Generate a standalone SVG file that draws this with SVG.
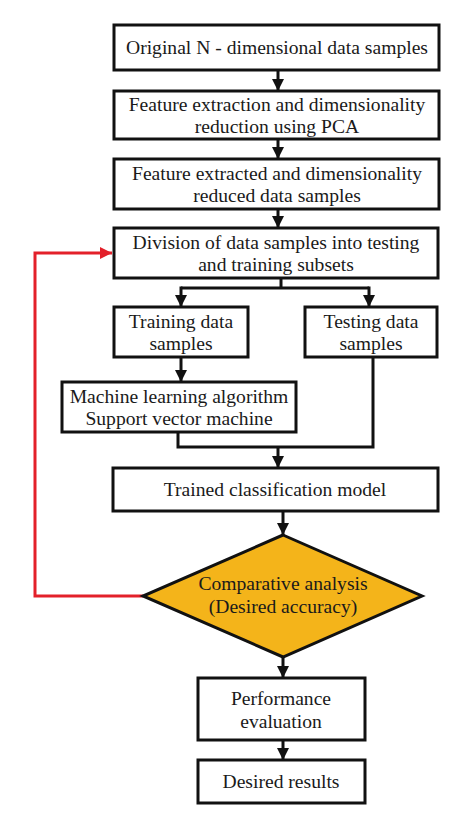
<svg xmlns="http://www.w3.org/2000/svg" width="474" height="816" viewBox="0 0 474 816">
<style>
.box{fill:#fff;stroke:#111;stroke-width:3}
.t{font-size:19.6px;fill:#1a1a1a;text-anchor:middle}
.c{fill:none;stroke:#111;stroke-width:3}
.r{fill:none;stroke:#e3202a;stroke-width:3}
</style>
<defs>
<marker id="ah" viewBox="0 0 10 10" refX="10" refY="5" markerWidth="4" markerHeight="4" markerUnits="strokeWidth" orient="auto"><path d="M0,0 L10,5 L0,10 Z" fill="#111"/></marker>
<marker id="ahr" viewBox="0 0 10 10" refX="10" refY="5" markerWidth="4" markerHeight="4" markerUnits="strokeWidth" orient="auto"><path d="M0,0 L10,5 L0,10 Z" fill="#e3202a"/></marker>
</defs>
<g id="connectors">
<line class="c" x1="278" y1="70" x2="278" y2="91" marker-end="url(#ah)"/>
<line class="c" x1="278" y1="139" x2="278" y2="159" marker-end="url(#ah)"/>
<line class="c" x1="278" y1="209" x2="278" y2="228" marker-end="url(#ah)"/>
<polyline class="c" points="281,278 281,288"/>
<polyline class="c" points="181,288 369,288"/>
<line class="c" x1="181" y1="286.5" x2="181" y2="307" marker-end="url(#ah)"/>
<line class="c" x1="369" y1="286.5" x2="369" y2="307" marker-end="url(#ah)"/>
<line class="c" x1="181" y1="357" x2="181" y2="382" marker-end="url(#ah)"/>
<polyline class="c" points="178,432 178,447 373,447 373,357"/>
<line class="c" x1="278" y1="447" x2="278" y2="468" marker-end="url(#ah)"/>
<line class="c" x1="283" y1="511" x2="283" y2="535" marker-end="url(#ah)"/>
<line class="c" x1="283" y1="657" x2="283" y2="678" marker-end="url(#ah)"/>
<line class="c" x1="283" y1="740" x2="283" y2="760" marker-end="url(#ah)"/>
<polyline class="r" points="143,596 35,596 35,253 112,253" marker-end="url(#ahr)"/>
</g>
<g font-family="Liberation Serif, Times New Roman, serif">
<g id="n1"><rect class="box" x="114" y="25" width="325" height="45"/><text class="t" x="277" y="54">Original N - dimensional data samples</text></g>
<g id="n2"><rect class="box" x="114" y="91" width="325" height="48"/><text class="t" x="277" y="111">Feature extraction and dimensionality</text><text class="t" x="277" y="133">reduction using PCA</text></g>
<g id="n3"><rect class="box" x="114" y="159" width="325" height="50"/><text class="t" x="277" y="180">Feature extracted and dimensionality</text><text class="t" x="277" y="202">reduced data samples</text></g>
<g id="n4"><rect class="box" x="114" y="228" width="324" height="50"/><text class="t" x="276" y="249">Division of data samples into testing</text><text class="t" x="276" y="271">and training subsets</text></g>
<g id="n5"><rect class="box" x="114" y="307" width="134" height="50"/><text class="t" x="181" y="328">Training data</text><text class="t" x="181" y="350">samples</text></g>
<g id="n6"><rect class="box" x="305" y="307" width="132" height="50"/><text class="t" x="371" y="328">Testing data</text><text class="t" x="371" y="350">samples</text></g>
<g id="n7"><rect class="box" x="62" y="382" width="234" height="50"/><text class="t" x="179" y="403">Machine learning algorithm</text><text class="t" x="179" y="425">Support vector machine</text></g>
<g id="n8"><rect class="box" x="113" y="468" width="325" height="43"/><text class="t" x="275" y="496">Trained classification model</text></g>
<g id="n9"><polygon points="283,535 422,596 283,657 143,596" fill="#f4b41a" stroke="#111" stroke-width="3"/><text class="t" x="283" y="590">Comparative analysis</text><text class="t" x="283" y="613">(Desired accuracy)</text></g>
<g id="n10"><rect class="box" x="198" y="678" width="167" height="62"/><text class="t" x="281" y="705">Performance</text><text class="t" x="281" y="728">evaluation</text></g>
<g id="n11"><rect class="box" x="198" y="760" width="167" height="43"/><text class="t" x="281" y="788">Desired results</text></g>
</g>
</svg>
